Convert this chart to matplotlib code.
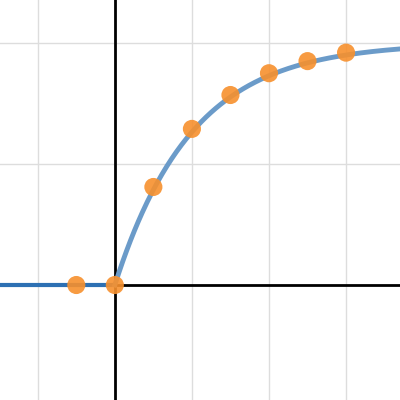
import numpy as np
import matplotlib
matplotlib.use("Agg")
import matplotlib.pyplot as plt

pts_x = [-0.5, 0, 0.5, 1, 1.5, 2, 2.5, 3]
pts_y = [0, 0, 0.81, 1.29, 1.57, 1.75, 1.85, 1.92]

fig = plt.figure(figsize=(4, 4), dpi=100)
ax = fig.add_axes([0, 0, 1, 1])
ax.set_xlim(-1.49, 3.70)
ax.set_ylim(-0.95, 2.355)
for gx in [-1, 1, 2, 3]:
    ax.axvline(gx, color="#dddddd", lw=1, zorder=0)
for gy in [1, 2]:
    ax.axhline(gy, color="#dddddd", lw=1, zorder=0)
ax.axhline(0, color="black", lw=2, zorder=1)
ax.axvline(0, color="black", lw=2, zorder=1)

xn = np.linspace(-1.6, 0, 10)
ax.plot(xn, np.zeros_like(xn), color="#2d70b3", lw=3, zorder=2)
xp = np.linspace(0, 3.8, 300)
ax.plot(xp, 2 * (1 - np.exp(-xp)), color="#6b9bc9", lw=3.5, zorder=2)
ax.scatter(pts_x, pts_y, s=170, color="#f7902d", alpha=0.9, edgecolors="none", zorder=3)

ax.set_xticks([]); ax.set_yticks([])
for s in ax.spines.values():
    s.set_visible(False)
fig.savefig("out.png", dpi=100)
